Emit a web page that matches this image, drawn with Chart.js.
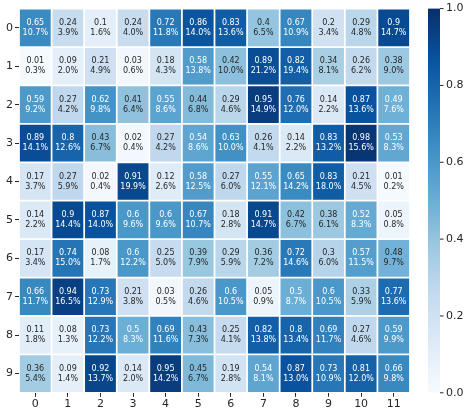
<!DOCTYPE html>
<html><head><meta charset="utf-8">
<script src="https://cdn.jsdelivr.net/npm/chart.js@4"></script>
<style>html,body{margin:0;background:#fff}#wrap{width:474px;height:412px}</style>
</head><body><div id="wrap"><canvas id="c"></canvas></div>
<script>
const cols = ['0','1','2','3','4','5','6','7','8','9','10','11'];
const rows = ['0','1','2','3','4','5','6','7','8','9'];
const values = [
  [.65,.24,.1,.24,.72,.86,.83,.4,.67,.2,.29,.9],
  [.01,.09,.21,.03,.18,.58,.42,.89,.82,.34,.26,.38],
  [.59,.27,.62,.41,.55,.44,.29,.95,.76,.14,.87,.49],
  [.89,.8,.43,.02,.27,.54,.63,.26,.14,.83,.98,.53],
  [.17,.27,.02,.91,.12,.58,.27,.55,.65,.83,.21,.01],
  [.14,.9,.87,.6,.6,.67,.18,.91,.42,.38,.52,.05],
  [.17,.74,.08,.6,.25,.39,.29,.36,.72,.3,.57,.48],
  [.66,.94,.73,.21,.03,.26,.6,.05,.5,.6,.33,.77],
  [.11,.08,.73,.5,.69,.43,.25,.82,.8,.69,.27,.59],
  [.36,.09,.92,.14,.95,.45,.19,.54,.87,.73,.81,.66]
];
const percents = [
  [10.7,3.9,1.6,4.0,11.8,14.0,13.6,6.5,10.9,3.4,4.8,14.7],
  [0.3,2.0,4.9,0.6,4.3,13.8,10.0,21.2,19.4,8.1,6.2,9.0],
  [9.2,4.2,9.8,6.4,8.6,6.8,4.6,14.9,12.0,2.2,13.6,7.6],
  [14.1,12.6,6.7,0.4,4.2,8.6,10.0,4.1,2.2,13.2,15.6,8.3],
  [3.7,5.9,0.4,19.9,2.6,12.5,6.0,12.1,14.2,18.0,4.5,0.2],
  [2.2,14.4,14.0,9.6,9.6,10.7,2.8,14.7,6.7,6.1,8.3,0.8],
  [3.4,15.0,1.7,12.2,5.0,7.9,5.9,7.2,14.6,6.0,11.5,9.7],
  [11.7,16.5,12.9,3.8,0.5,4.6,10.5,0.9,8.7,10.5,5.9,13.6],
  [1.8,1.3,12.2,8.3,11.6,7.3,4.1,13.8,13.4,11.7,4.6,9.9],
  [5.4,1.4,13.7,2.0,14.2,6.7,2.8,8.1,13.0,10.9,12.0,9.8]
];
const barTicks = ['0.0','0.2','0.4','0.6','0.8','1.0'];

// matplotlib Blues
const BLUES = ['#f7fbff','#deebf7','#c6dbef','#9ecae1','#6baed6','#4292c6','#2171b5','#08519c','#08306b'];
const hex = h => [1,3,5].map(i=>parseInt(h.substr(i,2),16));
function blues(v){
  const t = Math.max(0,Math.min(1,v))*(BLUES.length-1);
  const i = Math.min(Math.floor(t), BLUES.length-2), f = t-i;
  const a = hex(BLUES[i]), b = hex(BLUES[i+1]);
  return `rgb(${a.map((c,k)=>Math.round(c+(b[k]-c)*f)).join(',')})`;
}

const datasets = rows.map((r,ri)=>({
  label: r,
  data: values[ri].map(()=>[ri, ri+1]),
  backgroundColor: values[ri].map(blues),
  borderColor: '#fff', borderWidth: 1.2, borderSkipped: false,
  barPercentage: 1, categoryPercentage: 1, grouped: false
}));

const font = { family: 'DejaVu Sans', size: 11 };

const cellText = {
  id: 'cellText',
  afterDatasetsDraw(chart){
    const ctx = chart.ctx;
    ctx.save();
    ctx.textAlign = 'center'; ctx.textBaseline = 'middle';
    ctx.font = '8px DejaVu Sans';
    chart.data.datasets.forEach((ds,ri)=>{
      chart.getDatasetMeta(ri).data.forEach((el,ci)=>{
        const v = values[ri][ci];
        const y = (el.y + el.base)/2;
        ctx.fillStyle = v > 0.485 ? '#ffffff' : '#262626';
        ctx.fillText(String(v), el.x, y-5);
        ctx.fillText(percents[ri][ci].toFixed(1)+'%', el.x, y+5);
      });
    });
    ctx.restore();
  }
};

const colorBar = {
  id: 'colorBar',
  afterDraw(chart){
    const ctx = chart.ctx, a = chart.chartArea;
    const x0 = 428, w = 12, top = a.top, bot = a.bottom;
    const g = ctx.createLinearGradient(0, bot, 0, top);
    BLUES.forEach((c,i)=>g.addColorStop(i/(BLUES.length-1), c));
    ctx.save();
    ctx.fillStyle = g; ctx.fillRect(x0, top, w, bot-top);
    ctx.strokeStyle = '#262626'; ctx.lineWidth = 1;
    ctx.font = '11px DejaVu Sans'; ctx.fillStyle = '#262626';
    ctx.textAlign = 'left'; ctx.textBaseline = 'middle';
    barTicks.forEach(t=>{
      const y = bot - (bot-top)*parseFloat(t);
      ctx.beginPath(); ctx.moveTo(x0+w, y); ctx.lineTo(x0+w+3.5, y); ctx.stroke();
      ctx.fillText(t, x0+w+6, y);
    });
    ctx.restore();
  }
};

new Chart(document.getElementById('c'), {
  type: 'bar',
  data: { labels: cols, datasets },
  options: {
    responsive: true, maintainAspectRatio: false, animation: false,
    layout: { padding: { top: 8, right: 64, left: 4, bottom: 0 } },
    plugins: { legend: { display: false }, tooltip: { enabled: false } },
    scales: {
      x: { grid: { drawOnChartArea: false, tickLength: 4, color: '#262626', offset: false },
           border: { display: false },
           afterBuildTicks: s => { s.ticks = cols.map((c,i)=>({ value: i })); },
           ticks: { color: '#262626', font, padding: 1 } },
      y: { type: 'linear', min: 0, max: 10, reverse: true,
           grid: { drawOnChartArea: false, tickLength: 4, color: '#262626' }, border: { display: false },
           afterBuildTicks: s => { s.ticks = rows.map((r,i)=>({ value: i+0.5 })); },
           ticks: { color: '#262626', font, padding: 2, callback: v => String(Math.floor(v)) } }
    }
  },
  plugins: [cellText, colorBar]
});
</script></body></html>
